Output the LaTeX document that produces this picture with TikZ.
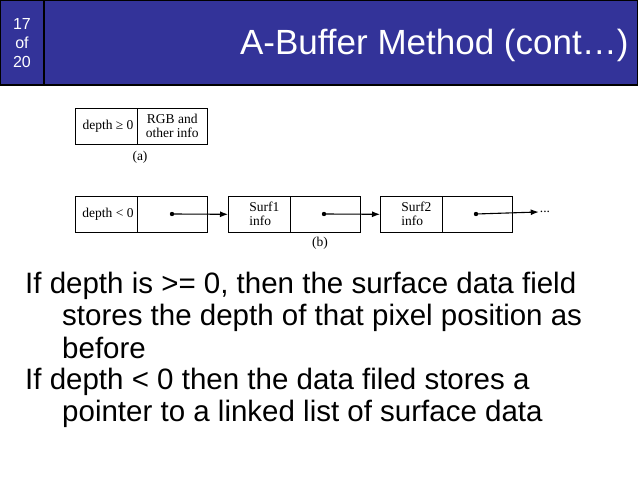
\documentclass[tikz,border=0pt]{standalone}
\usepackage{fontspec}
\setmainfont{Liberation Serif}
\newfontfamily\arial{Liberation Sans}
\usetikzlibrary{arrows.meta}
\definecolor{hdr}{HTML}{333399}
\begin{document}
\begin{tikzpicture}[x=1pt,y=-1pt,
  cell/.style={draw,line width=0.6pt,minimum height=36pt,inner sep=0pt,anchor=north west,font=\fontsize{13.5}{14}\selectfont,align=left},
  lbl/.style={font=\fontsize{13.5}{14}\selectfont},
  body/.style={anchor=west,inner sep=0pt,font=\arial\fontsize{29.5}{31}\selectfont},
  ptr/.style={-{Latex[length=8pt,width=6pt]},line width=1.1pt}]
\useasboundingbox (0,0) rectangle (638,478);
\fill[white] (0,0) rectangle (638,478);
\fill[hdr] (0,0) rectangle (638,85);
\draw[line width=1.2pt] (0.6,0.6) rectangle (637.4,85);
\draw[line width=1.2pt] (44,0) -- (44,85);
\node[font=\arial\fontsize{16}{19}\selectfont,text=white,align=center] (pg) at (22,43) {17\\of\\20};
\node[font=\arial\fontsize{35}{37}\selectfont,text=white,anchor=east] (title) at (632,45) {A-Buffer Method (cont\ldots)};
% (a)
\node[cell,minimum width=62pt] (a1) at (75,108) {\ depth ≥ 0};
\node[cell,minimum width=70pt,align=center] (a2) at (137,108) {RGB and\\other info};
\node[lbl] (la) at (140,157) {(a)};
% (b)
\node[cell,minimum width=62pt] (b1) at (75,196) {\ depth < 0};
\node[cell,minimum width=70pt] (b2) at (137,196) {};
\node[cell,minimum width=62pt,align=left] (s1) at (228,196) {\ \ \ Surf1\\\ \ \ info};
\node[cell,minimum width=70pt] (s1p) at (290,196) {};
\node[cell,minimum width=62pt,align=left] (s2) at (380,196) {\ \ \ Surf2\\\ \ \ info};
\node[cell,minimum width=70pt] (s2p) at (442,196) {};
\node[lbl,inner sep=1pt] (dots) at (545,212) {...};
\node[lbl] (lb) at (320,243) {(b)};
\coordinate (d1) at (172,214);
\coordinate (d2) at (324,214);
\coordinate (d3) at (476,214);
\fill (d1) circle (2.2pt); \fill (d2) circle (2.2pt); \fill (d3) circle (2.2pt);
\draw[ptr] (d1) -- (s1.west);
\draw[ptr] (d2) -- (s2.west);
\draw[ptr] (d3) -- (dots.west);
% text
\node[body] (t1) at (25,286) {If depth is >= 0, then the surface data field};
\node[body] (t2) at (62,318) {stores the depth of that pixel position as};
\node[body] (t3) at (62,348) {before};
\node[body] (t4) at (25,382) {If depth < 0 then the data filed stores a};
\node[body] (t5) at (62,414) {pointer to a linked list of surface data};
\end{tikzpicture}
\end{document}
